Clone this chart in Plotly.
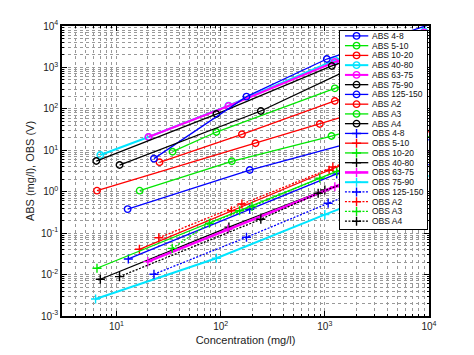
import plotly.graph_objects as go
import math

# ---------------- data ----------------
names = ["ABS 4-8", "ABS 5-10", "ABS 10-20", "ABS 40-80", "ABS 63-75", "ABS 75-90",
         "ABS 125-150", "ABS A2", "ABS A3", "ABS A4",
         "OBS 4-8", "OBS 5-10", "OBS 10-20", "OBS 40-80", "OBS 63-75", "OBS 75-90",
         "OBS 125-150", "OBS A2", "OBS A3", "OBS A4"]

abs_4_8_x = [12.8, 190, 2500]
abs_4_8_y = [0.38, 3.34, 19]
abs_5_10_x = [34.5, 91, 1247, 9000]
abs_5_10_y = [9.25, 27.6, 313, 1500]
abs_10_20_x = [25.9, 160, 1247, 9000]
abs_10_20_y = [5.13, 24.3, 155, 700]
abs_40_80_x = [7.0, 20.3, 119, 1247, 9000]
abs_40_80_y = [7.7, 20.9, 120, 1500, 7500]
abs_63_75_x = [20.3, 119, 1247, 9000]
abs_63_75_y = [20.9, 117, 1352, 7000]
abs_75_90_x = [6.4, 91, 1167, 9000]
abs_75_90_y = [5.5, 75, 1084, 6000]
abs_125_150_x = [22.9, 177, 1045, 12000]
abs_125_150_y = [6.3, 197, 1596, 12500]
abs_a2_x = [6.5, 216, 895, 9000]
abs_a2_y = [1.06, 14.8, 43.2, 250]
abs_a3_x = [16.7, 128, 1159, 9000]
abs_a3_y = [1.06, 5.42, 22.1, 90]
abs_a4_x = [10.7, 243, 2500]
abs_a4_y = [4.4, 88.7, 1400]

obs_4_8_x = [13.0, 190, 1300, 9000]
obs_4_8_y = [0.0238, 0.377, 2.7, 18]
obs_5_10_x = [16.6, 127, 1100, 9000]
obs_5_10_y = [0.0407, 0.348, 3.3, 28]
obs_10_20_x = [6.5, 152, 1300, 9000]
obs_10_20_y = [0.0142, 0.348, 3.1, 21]
obs_40_80_x = [7.0, 120, 1000, 9000]
obs_40_80_y = [0.0077, 0.14, 1.1, 8]
obs_63_75_x = [20, 117.5, 1247, 9000]
obs_63_75_y = [0.0205, 0.124, 1.32, 9]
obs_75_90_x = [6.3, 91, 1000, 9000]
obs_75_90_y = [0.00258, 0.0247, 0.28, 2.4]
obs_125_150_x = [22.9, 177, 1076, 9000]
obs_125_150_y = [0.0102, 0.0794, 0.525, 4.5]
obs_a2_x = [25.5, 160, 1194, 9000]
obs_a2_y = [0.0776, 0.506, 3.95, 30]
obs_a3_x = [34.3, 78, 200, 895, 9000]
obs_a3_y = [0.043, 0.173, 0.44, 2.11, 21]
obs_a4_x = [10.7, 243, 863, 9000]
obs_a4_y = [0.0089, 0.216, 0.916, 9]

xtick_vals = [10, 100, 1000, 10000]
xtick_text = ["10<sup>1</sup>", "10<sup>2</sup>", "10<sup>3</sup>", "10<sup>4</sup>"]
ytick_vals = [1e-3, 1e-2, 1e-1, 1, 10, 100, 1000, 10000]
ytick_text = ["10<sup>-3</sup>", "10<sup>-2</sup>", "10<sup>-1</sup>", "10<sup>0</sup>",
              "10<sup>1</sup>", "10<sup>2</sup>", "10<sup>3</sup>", "10<sup>4</sup>"]

# ---------------- styles ----------------
B, G, R, C, M, K = "#0000FF", "#00E600", "#FF0000", "#00E5FF", "#FF00FF", "#000000"
DOT = "2px,1.5px"
series = [
    (abs_4_8_x, abs_4_8_y, B, "abs", "solid", 1.3),
    (abs_5_10_x, abs_5_10_y, G, "abs", "solid", 1.3),
    (abs_10_20_x, abs_10_20_y, R, "abs", "solid", 1.3),
    (abs_40_80_x, abs_40_80_y, C, "abs", "solid", 2.0),
    (abs_63_75_x, abs_63_75_y, M, "abs", "solid", 2.0),
    (abs_75_90_x, abs_75_90_y, K, "abs", "solid", 1.3),
    (abs_125_150_x, abs_125_150_y, B, "abs", "solid", 1.3),
    (abs_a2_x, abs_a2_y, R, "abs", "solid", 1.3),
    (abs_a3_x, abs_a3_y, G, "abs", "solid", 1.3),
    (abs_a4_x, abs_a4_y, K, "abs", "solid", 1.3),
    (obs_4_8_x, obs_4_8_y, B, "obs", "solid", 1.3),
    (obs_5_10_x, obs_5_10_y, R, "obs", "solid", 1.3),
    (obs_10_20_x, obs_10_20_y, G, "obs", "solid", 1.3),
    (obs_40_80_x, obs_40_80_y, K, "obs", "solid", 1.3),
    (obs_63_75_x, obs_63_75_y, M, "obs", "solid", 2.6),
    (obs_75_90_x, obs_75_90_y, C, "obs", "solid", 2.0),
    (obs_125_150_x, obs_125_150_y, B, "obs", DOT, 1.3),
    (obs_a2_x, obs_a2_y, R, "obs", DOT, 1.3),
    (obs_a3_x, obs_a3_y, G, "obs", DOT, 1.3),
    (obs_a4_x, obs_a4_y, K, "obs", DOT, 1.3),
]

FONT = "Liberation Sans, Arial, Helvetica, sans-serif"

def marker_for(kind, color):
    if kind == "abs":
        return dict(symbol="circle-open", size=6.5, color=color,
                    line=dict(color=color, width=1.4))
    return dict(symbol="cross-thin-open", size=6.5, color=color,
                line=dict(color=color, width=1.4))

fig = go.Figure()
order = [3] + [i for i in range(20) if i != 3]
for i in order:
    xs, ys, col, kind, dash, w = series[i]
    fig.add_trace(go.Scatter(
        x=xs, y=ys, mode="lines+markers", name=names[i], showlegend=False,
        line=dict(color=col, width=w, dash=dash),
        marker=marker_for(kind, col), xaxis="x", yaxis="y"))

# ---------------- custom legend on an inset axis ----------------
n = len(names)
for i, (xs, ys, col, kind, dash, w) in enumerate(series):
    fig.add_trace(go.Scatter(
        x=[0.057, 0.19, 0.325], y=[i, i, i], mode="lines+markers", showlegend=False,
        line=dict(color=col, width=w, dash=dash),
        marker=dict(**marker_for(kind, col), opacity=[0, 1, 0]),
        xaxis="x2", yaxis="y2", hoverinfo="skip"))

annotations = [dict(x=0.35, y=i, xref="x2", yref="y2", text=names[i], showarrow=False,
                    xanchor="left", yanchor="middle",
                    font=dict(family=FONT, size=8.5, color="#111"))
               for i in range(n)]

grid = dict(showgrid=True, gridcolor="#999999", griddash="dot", gridwidth=1)
fig.update_layout(
    width=466, height=347,
    margin=dict(l=54, r=45, t=18, b=39, autoexpand=False),
    paper_bgcolor="white", plot_bgcolor="white",
    font=dict(family=FONT, size=10, color="#222"),
    annotations=annotations,
    xaxis=dict(type="log", range=[math.log10(3), 4], tickvals=xtick_vals, ticktext=xtick_text,
               ticks="inside", ticklen=5, tickcolor="black", showline=True, linecolor="black",
               linewidth=1.5, mirror="ticks", zeroline=False, automargin=False,
               minor=dict(ticks="inside", ticklen=2.5, tickcolor="black", dtick="D1", **grid),
               title=dict(text="Concentration (mg/l)", font=dict(size=11), standoff=6),
               **grid),
    yaxis=dict(type="log", range=[-3, 4], tickvals=ytick_vals, ticktext=ytick_text,
               ticks="inside", ticklen=5, tickcolor="black", showline=True, linecolor="black",
               linewidth=1.5, mirror="ticks", zeroline=False, automargin=False,
               minor=dict(ticks="inside", ticklen=2.5, tickcolor="black", dtick="D1", **grid),
               title=dict(text="ABS (mg/l), OBS (V)", font=dict(size=11), standoff=4),
               **grid),
    xaxis2=dict(domain=[0.7575, 0.9946], range=[0, 1], anchor="y2", showgrid=False,
                zeroline=False, showticklabels=False, ticks="", showline=True,
                linecolor="black", linewidth=1.2, mirror=True, fixedrange=True,
                automargin=False),
    yaxis2=dict(domain=[0.30, 0.983], range=[19.8, -0.51], anchor="x2", showgrid=False,
                zeroline=False, showticklabels=False, ticks="", showline=True,
                linecolor="black", linewidth=1.2, mirror=True, fixedrange=True,
                automargin=False),
)

fig.write_html("out.html")
